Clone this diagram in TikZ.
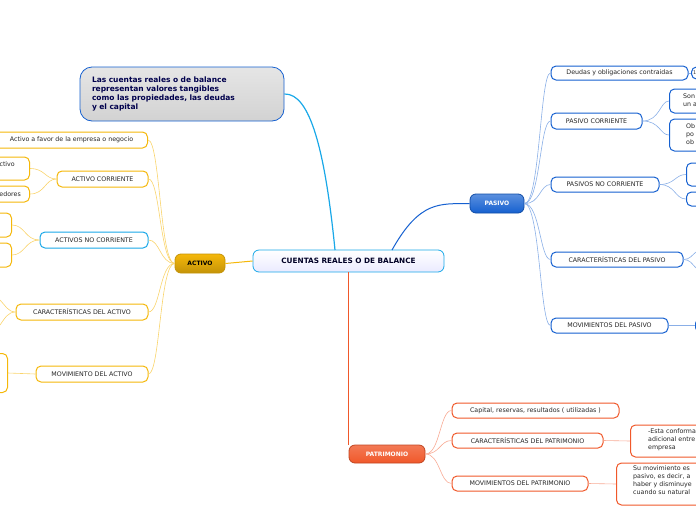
\documentclass[tikz,border=0pt]{standalone}
\usepackage{fontspec}
\setmainfont{DejaVu Sans}
\usetikzlibrary{positioning}
\definecolor{orA}{HTML}{F5B80A}
\definecolor{blP}{HTML}{1560D0}
\definecolor{rdP}{HTML}{F0582A}
\definecolor{cyN}{HTML}{19A8E8}
\tikzset{
 box/.style={draw, rounded corners=5pt, line width=1pt, fill=white, inner sep=0pt, font=\fontsize{6.3}{7.5}\selectfont, text=black!85},
 ob/.style={box, draw=orA},
 pb/.style={box, draw=blP},
 rb/.style={box, draw=rdP},
 tx/.style={anchor=north west, inner sep=0pt, align=left, font=\fontsize{6.3}{8}\selectfont, text=black!85},
 ol/.style={draw=orA!60, line width=0.6pt},
 pl/.style={draw=blP!50, line width=0.6pt},
 rl/.style={draw=rdP!50, line width=0.6pt},
 main/.style={draw, rounded corners=6pt, line width=0.8pt, inner sep=0pt, font=\fontsize{6}{7}\selectfont\bfseries}
}
\begin{document}
\begin{tikzpicture}[x=1pt,y=-1pt]
\useasboundingbox (0,0) rectangle (696,520);
\clip (0,0) rectangle (696,520);
% central
\node[main, draw=cyN, top color=white, bottom color=blue!8, minimum width=191pt, minimum height=22pt, font=\fontsize{7.3}{8}\selectfont\bfseries, text=black!85!blue] (c) at (348.5,261) {CUENTAS REALES O DE BALANCE};
\node[main, draw=blP, top color=white!80!gray, bottom color=gray!35, rounded corners=12pt, minimum width=204pt, minimum height=54pt, text=blue!30!black, font=\fontsize{7.5}{9}\selectfont\bfseries, align=left, text width=180pt] (note) at (182,94) {Las cuentas reales o de balance\\representan valores tangibles\\como las propiedades, las deudas\\y el capital};
\node[main, draw=orA!80!black, top color=orA, bottom color=orA!80!black, minimum width=50pt, minimum height=19pt] (act) at (200,263.5) {ACTIVO};
\node[main, draw=blP!80!black, top color=blP!70, bottom color=blP, text=white, minimum width=54pt, minimum height=19pt] (pas) at (497,203.5) {PASIVO};
\node[main, draw=rdP!80!black, top color=rdP!80, bottom color=rdP, text=white, minimum width=76pt, minimum height=18pt] (pat) at (387,454) {PATRIMONIO};
\draw[cyN, line width=1.2pt] (335,250) .. controls (325,150) and (310,93) .. (note.east);
\draw[blP, line width=1pt] (392,250) .. controls (420,200) and (440,204) .. (pas.west);
\draw[rdP, line width=1pt] (348,272) -- (348,445);
\draw[orA, line width=1pt] (act.east) -- (c.west);
% activo children
\node[ob, anchor=east, minimum width=160pt, minimum height=16pt] (a1) at (148,140) {\hspace*{8pt}Activo a favor de la empresa o negocio};
\node[ob, minimum width=91pt, minimum height=16pt] (a2) at (102.5,179) {ACTIVO CORRIENTE};
\node[box, draw=cyN, minimum width=108pt, minimum height=16pt] (a3) at (94,240) {ACTIVOS NO CORRIENTE};
\node[ob, minimum width=132pt, minimum height=16pt] (a4) at (82,312) {CARACTERÍSTICAS DEL ACTIVO};
\node[ob, minimum width=112pt, minimum height=16pt] (a5) at (92,374) {MOVIMIENTO DEL ACTIVO};
\foreach \n in {a1,a2,a3,a4,a5}{\draw[ol] (act.west) .. controls (160,263) and (160,0|-\n.east) .. (\n.east);}
\node[ob, anchor=east, minimum width=60pt, minimum height=23pt] (a21) at (30,168.5) {};
\node[anchor=east, inner sep=0pt, font=\fontsize{6.3}{7}\selectfont, text=black!85] at (15,164) {Activo};
\node[ob, anchor=east, minimum width=60pt, minimum height=16pt] (a22) at (30,194) {};
\node[anchor=east, inner sep=0pt, font=\fontsize{6.3}{7}\selectfont, text=black!85] at (21,194.5) {Acreedores};
\node[ob, anchor=east, minimum width=40pt, minimum height=24pt] (a31) at (12,225) {};
\node[ob, anchor=east, minimum width=40pt, minimum height=24pt] (a32) at (12,255) {};
\node[ob, anchor=east, minimum width=40pt, minimum height=39pt] (a51) at (8,373) {};
\foreach \n in {a21,a22}{\draw[ol] (a2.west) .. controls (45,179) and (45,0|-\n.east) .. (\n.east);}
\foreach \n in {a31,a32}{\draw[ol] (a3.west) .. controls (25,240) and (25,0|-\n.east) .. (\n.east);}
\draw[ol] (a4.west) .. controls (8,312) and (5,305) .. (0,300);
\draw[ol] (a4.west) .. controls (8,312) and (5,318) .. (0,325);
\draw[ol] (a5.west) -- (a51.east);
% pasivo children
\node[pb, minimum width=137pt, minimum height=14pt] (p1) at (619.5,73) {Deudas y obligaciones contraidas};
\node[pb, anchor=west, minimum width=12pt, minimum height=12pt, font=\fontsize{4}{5}\selectfont] (p11) at (691,73) {};
\node[inner sep=0pt, anchor=west, font=\fontsize{5}{5}\selectfont, text=black!80] at (693,73) {1};
\node[pb, minimum width=91pt, minimum height=16pt] (p2) at (596.5,121) {PASIVO CORRIENTE};
\node[pb, minimum width=108pt, minimum height=15pt] (p3) at (605,184.5) {PASIVOS NO CORRIENTE};
\node[pb, minimum width=132pt, minimum height=15pt] (p4) at (617,259.5) {CARACTERÍSTICAS DEL PASIVO};
\node[pb, minimum width=117pt, minimum height=15pt] (p5) at (609.5,325.5) {MOVIMIENTOS DEL PASIVO};
\foreach \n in {p1,p2,p3,p4,p5}{\draw[pl] (pas.east) .. controls (540,204) and (540,0|-\n.west) .. (\n.west);}
\draw[pl] (p1.east) -- (p11.west);
\node[pb, anchor=west, minimum width=60pt, minimum height=24pt] (p21) at (669,101) {};
\node[tx] at (683,94) {Son\\un a};
\node[pb, anchor=west, minimum width=60pt, minimum height=32pt] (p22) at (669,135) {};
\node[tx] at (686,124) {Ob\\po\\ob};
\node[pb, anchor=west, minimum width=40pt, minimum height=23pt] (p31) at (686,174.5) {};
\node[pb, anchor=west, minimum width=40pt, minimum height=14pt] (p32) at (686,199) {};
\node[pb, anchor=west, minimum width=40pt, minimum height=14pt] (p51) at (695,325.5) {};
\foreach \n in {p21,p22}{\draw[pl] (p2.east) .. controls (660,121) and (660,0|-\n.west) .. (\n.west);}
\foreach \n in {p31,p32}{\draw[pl] (p3.east) .. controls (675,184.5) and (675,0|-\n.west) .. (\n.west);}
\draw[pl] (p4.east) .. controls (690,259.5) and (692,255) .. (696,252);
\draw[pl] (p4.east) .. controls (690,259.5) and (692,264) .. (696,268);
\draw[pl] (p5.east) -- (p51.west);
% patrimonio children
\node[rb, minimum width=167pt, minimum height=15pt] (r1) at (535.5,410.5) {Capital, reservas, resultados ( utilizadas )};
\node[rb, minimum width=151pt, minimum height=15pt] (r2) at (527.5,440.5) {CARACTERÍSTICAS DEL PATRIMONIO};
\node[rb, minimum width=136pt, minimum height=15pt] (r3) at (520,483.5) {MOVIMIENTOS DEL PATRIMONIO};
\foreach \n in {r1,r2,r3}{\draw[rl] (pat.east) .. controls (440,454) and (440,0|-\n.west) .. (\n.west);}
\node[rb, anchor=west, minimum width=100pt, minimum height=32pt] (r21) at (630,441) {};
\node[tx] at (648,429) {-Esta conformado\\adicional entre\\empresa};
\node[rb, anchor=west, minimum width=100pt, minimum height=42pt] (r31) at (616,484) {};
\node[tx] at (633,466) {Su movimiento es\\pasivo, es decir, a\\haber y disminuye\\cuando su natural};
\draw[rl] (r2.east) -- (r21.west);
\draw[rl] (r3.east) -- (r31.west);
\end{tikzpicture}
\end{document}
